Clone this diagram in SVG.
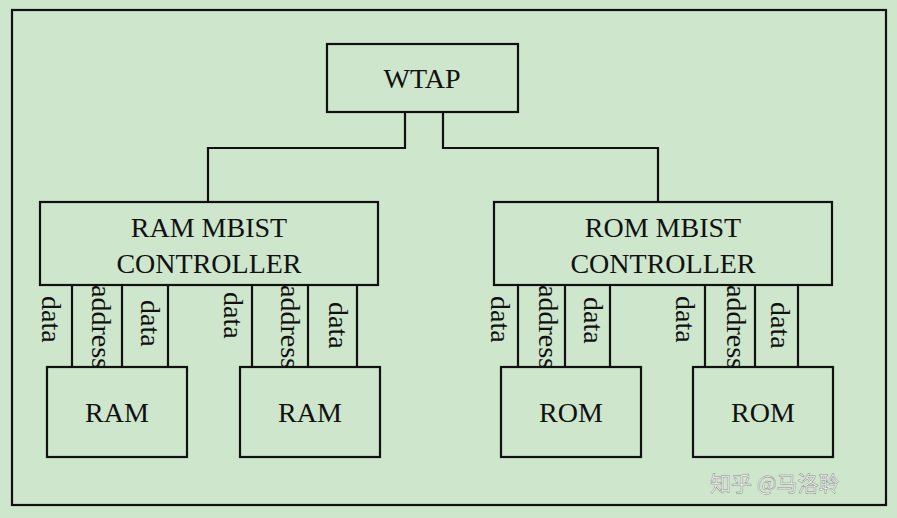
<svg xmlns="http://www.w3.org/2000/svg" width="897" height="518" viewBox="0 0 897 518">
<style>
.b{fill:#cde6cc;stroke:#111;stroke-width:2.2}
.l{fill:none;stroke:#111;stroke-width:2.2}
text{font-family:"Liberation Serif","Times New Roman",serif;font-size:28px;fill:#111}
.c{text-anchor:middle}
.w{font-family:"Noto Sans CJK SC",sans-serif;font-size:21px;fill:#fff;fill-opacity:0.85;stroke:#888;stroke-width:0.5}
</style>
<rect x="0" y="0" width="897" height="518" fill="#cde6cc"/>
<rect x="12" y="10" width="874" height="495" class="l"/>
<g id="connectors" class="l">
<path d="M405 112V148H208V202M443 112V148H658V202"/>
<path d="M72 285V367M122 285V367M168 285V367M252 285V367M308 285V367M357 285V367"/>
<path d="M518 285V367M565 285V367M610 285V367M705 285V367M755 285V367M798 285V367"/>
</g>
<g id="labels">
<text transform="translate(42,296) rotate(90)">data</text>
<text transform="translate(92,285) rotate(90)">address</text>
<text transform="translate(141,300) rotate(90)">data</text>
<text transform="translate(224,292) rotate(90)">data</text>
<text transform="translate(281,285) rotate(90)">address</text>
<text transform="translate(329,302) rotate(90)">data</text>
<text transform="translate(491,296) rotate(90)">data</text>
<text transform="translate(539,285) rotate(90)">address</text>
<text transform="translate(584,297) rotate(90)">data</text>
<text transform="translate(676,296) rotate(90)">data</text>
<text transform="translate(727,285) rotate(90)">address</text>
<text transform="translate(771,302) rotate(90)">data</text>
</g>
<g id="wtap"><rect x="327" y="44" width="191" height="68" class="b"/><text x="422" y="88" class="c">WTAP</text></g>
<g id="ram-ctrl"><rect x="40" y="202" width="338" height="83" class="b"/><text x="209" y="237" class="c">RAM MBIST</text><text x="209" y="273" class="c">CONTROLLER</text></g>
<g id="rom-ctrl"><rect x="494" y="202" width="338" height="83" class="b"/><text x="663" y="237" class="c">ROM MBIST</text><text x="663" y="273" class="c">CONTROLLER</text></g>
<g id="ram1"><rect x="47" y="367" width="140" height="90" class="b"/><text x="117" y="422" class="c">RAM</text></g>
<g id="ram2"><rect x="240" y="367" width="140" height="90" class="b"/><text x="310" y="422" class="c">RAM</text></g>
<g id="rom1"><rect x="501" y="367" width="140" height="90" class="b"/><text x="571" y="422" class="c">ROM</text></g>
<g id="rom2"><rect x="693" y="367" width="140" height="90" class="b"/><text x="763" y="422" class="c">ROM</text></g>
<text x="710" y="491" class="w">知乎 @马洛聆</text>
</svg>
